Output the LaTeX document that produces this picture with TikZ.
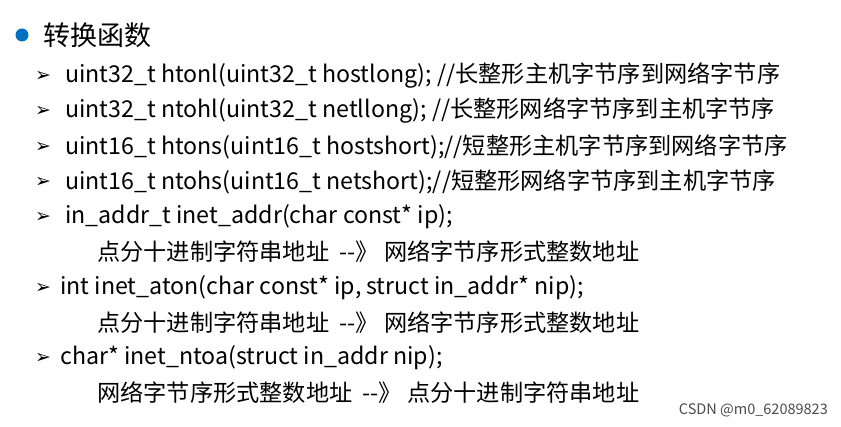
\documentclass[tikz,border=0pt]{standalone}
\usepackage{fontspec}
\setmainfont{Noto Sans CJK SC}
\newfontfamily\dejavu{DejaVu Sans}
\definecolor{bul}{RGB}{0,112,192}
\begin{document}
\begin{tikzpicture}[x=1pt,y=-1pt,
  ln/.style={anchor=west,inner sep=0pt,font=\fontsize{23.2}{26}\selectfont},
  arr/.style={anchor=west,inner sep=0pt,font=\dejavu\fontsize{19}{22}\selectfont}]
\useasboundingbox[fill=white] (0,0) rectangle (841,427);
\fill[bul] (22,35) circle (6.5);
\node[anchor=west,inner sep=0pt,font=\fontsize{27}{30}\selectfont] (t) at (43,35) {转换函数};
\foreach \y/\x/\txt [count=\i] in {
 76/65/{uint32\_t htonl(uint32\_t hostlong); //长整形主机字节序到网络字节序},
 111/65/{uint32\_t ntohl(uint32\_t netllong); //长整形网络字节序到主机字节序},
 147/65/{uint16\_t htons(uint16\_t hostshort);//短整形主机字节序到网络字节序},
 182/65/{uint16\_t ntohs(uint16\_t netshort);//短整形网络字节序到主机字节序},
 217/65/{in\_addr\_t inet\_addr(char const* ip);},
 288/60/{int inet\_aton(char const* ip, struct in\_addr* nip);},
 358/60/{char* inet\_ntoa(struct in\_addr nip);}}
 {\node[arr] (a\i) at (35,\y) {➢}; \node[ln] (l\i) at (\x,\y) {\txt};}
\node[ln] (c1) at (97,252) {点分十进制字符串地址\ \ {-}{-}》 网络字节序形式整数地址};
\node[ln] (c2) at (97,323) {点分十进制字符串地址\ \ {-}{-}》 网络字节序形式整数地址};
\node[ln] (c3) at (97,393) {网络字节序形式整数地址\ \ {-}{-}》 点分十进制字符串地址};
\node[anchor=east,inner sep=0pt,text=black!70,font=\fontsize{14.5}{16}\selectfont] (w) at (828,410) {CSDN @m0\_62089823};
\end{tikzpicture}
\end{document}
